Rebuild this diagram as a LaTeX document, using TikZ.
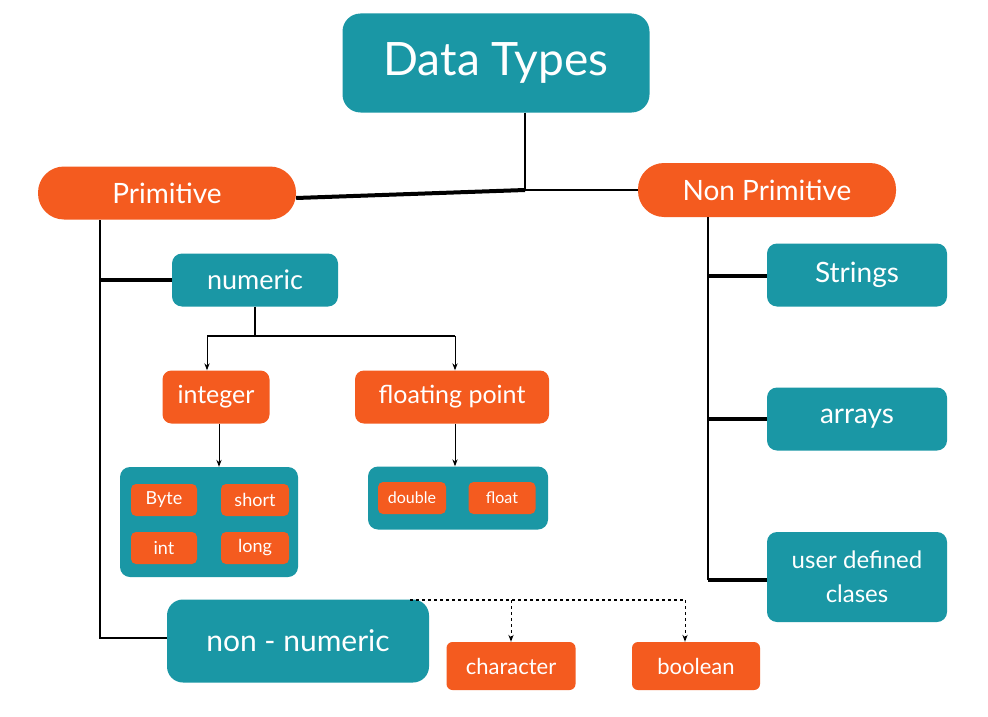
\documentclass[tikz,border=0pt]{standalone}
\usepackage{fontspec}
\setmainfont{Lato}
\usetikzlibrary{arrows.meta}
\definecolor{teal1}{HTML}{1A97A5}
\definecolor{org}{HTML}{F45B1F}
\tikzset{
 tbox/.style={fill=teal1,rounded corners=10pt,text=white,align=center,inner sep=0pt},
 obox/.style={fill=org,rounded corners=9pt,text=white,align=center,inner sep=0pt},
 ln/.style={line width=1.3pt},
 thk/.style={line width=4pt},
 arr/.style={line width=1pt,-{Stealth[length=7pt]}},
 darr/.style={line width=1pt,dashed,-{Stealth[length=7pt,open]}}
}
\begin{document}
\begin{tikzpicture}[x=1pt,y=-1pt]
\useasboundingbox (0,0) rectangle (988,717);
\fill[white] (0,0) rectangle (988,717);
\node[tbox,minimum width=307,minimum height=99,rounded corners=18pt,font=\fontsize{46}{50}\selectfont] (dt) at (496,63) {Data Types};
\node[obox,minimum width=258,minimum height=53,rounded corners=26pt,font=\fontsize{28}{32}\selectfont] (prim) at (167,193) {Primitive};
\node[obox,minimum width=258,minimum height=54,rounded corners=26pt,font=\fontsize{28}{32}\selectfont] (np) at (767,190) {Non Primitive};
\node[tbox,minimum width=166,minimum height=53,font=\fontsize{27}{30}\selectfont] (num) at (255,280) {numeric};
\node[obox,minimum width=107,minimum height=53,font=\fontsize{25}{28}\selectfont] (int) at (216,397) {integer};
\node[obox,minimum width=194,minimum height=53,font=\fontsize{25}{28}\selectfont] (fp) at (452,397) {floating point};
\node[tbox,minimum width=178,minimum height=110] (ig) at (209,522) {};
\node[obox,minimum width=66,minimum height=32,rounded corners=5pt,font=\fontsize{18}{20}\selectfont] (byte) at (164,500) {Byte};
\node[obox,minimum width=68,minimum height=32,rounded corners=5pt,font=\fontsize{18}{20}\selectfont] (short) at (255,500) {short};
\node[obox,minimum width=66,minimum height=32,rounded corners=5pt,font=\fontsize{18}{20}\selectfont] (intb) at (164,548) {int};
\node[obox,minimum width=68,minimum height=32,rounded corners=5pt,font=\fontsize{18}{20}\selectfont] (long) at (255,548) {long};
\node[tbox,minimum width=180,minimum height=63] (fg) at (458,498) {};
\node[obox,minimum width=68,minimum height=32,rounded corners=5pt,font=\fontsize{16}{18}\selectfont] (dbl) at (412,498) {double};
\node[obox,minimum width=67,minimum height=32,rounded corners=5pt,font=\fontsize{16}{18}\selectfont] (flt) at (502,498) {float};
\node[tbox,minimum width=180,minimum height=63,font=\fontsize{28}{32}\selectfont] (str) at (857,275) {Strings};
\node[tbox,minimum width=180,minimum height=63,font=\fontsize{28}{32}\selectfont] (arr) at (857,419) {arrays};
\node[tbox,minimum width=180,minimum height=90,font=\fontsize{24}{34}\selectfont] (udc) at (857,577) {user defined\\clases};
\node[tbox,minimum width=262,minimum height=83,rounded corners=16pt,font=\fontsize{30}{34}\selectfont] (nn) at (298,641) {non - numeric};
\node[obox,minimum width=129,minimum height=48,rounded corners=6pt,font=\fontsize{22}{26}\selectfont] (ch) at (511,666) {character};
\node[obox,minimum width=128,minimum height=48,rounded corners=6pt,font=\fontsize{22}{26}\selectfont] (bo) at (696,666) {boolean};
% top connectors
\coordinate (j) at (525,190);
\draw[ln] (dt.south -| j) -- (j);
\draw[thk] (prim.east |- 0,198) -- (j);
\draw[ln] (j) -- (np.west |- j);
% primitive tree
\coordinate (pv) at (100,220);
\draw[ln] (pv) -- (100,638) -- (nn.west |- 0,638);
\draw[thk] (100,280) -- (num.west);
\draw[ln] (num.south) -- (255,336);
\draw[ln] (207,336) -- (455,336);
\draw[arr] (207,336) -- (int.north -| 207,0);
\draw[arr] (455,336) -- (fp.north -| 455,0);
\draw[arr] (int.south -| 219,0) -- (ig.north -| 219,0);
\draw[arr] (fp.south -| 455,0) -- (fg.north -| 455,0);
% non primitive tree
\draw[ln] (np.south -| 708,0) -- (708,580);
\draw[thk] (708,276) -- (str.west |- 0,276);
\draw[thk] (708,419) -- (arr.west);
\draw[thk] (708,580) -- (udc.west |- 0,580);
% dashed
\draw[ln,dashed] (410,600) -- (685,600);
\draw[darr] (511,600) -- (ch.north);
\draw[darr] (685,600) -- (bo.north -| 685,0);
\end{tikzpicture}
\end{document}
